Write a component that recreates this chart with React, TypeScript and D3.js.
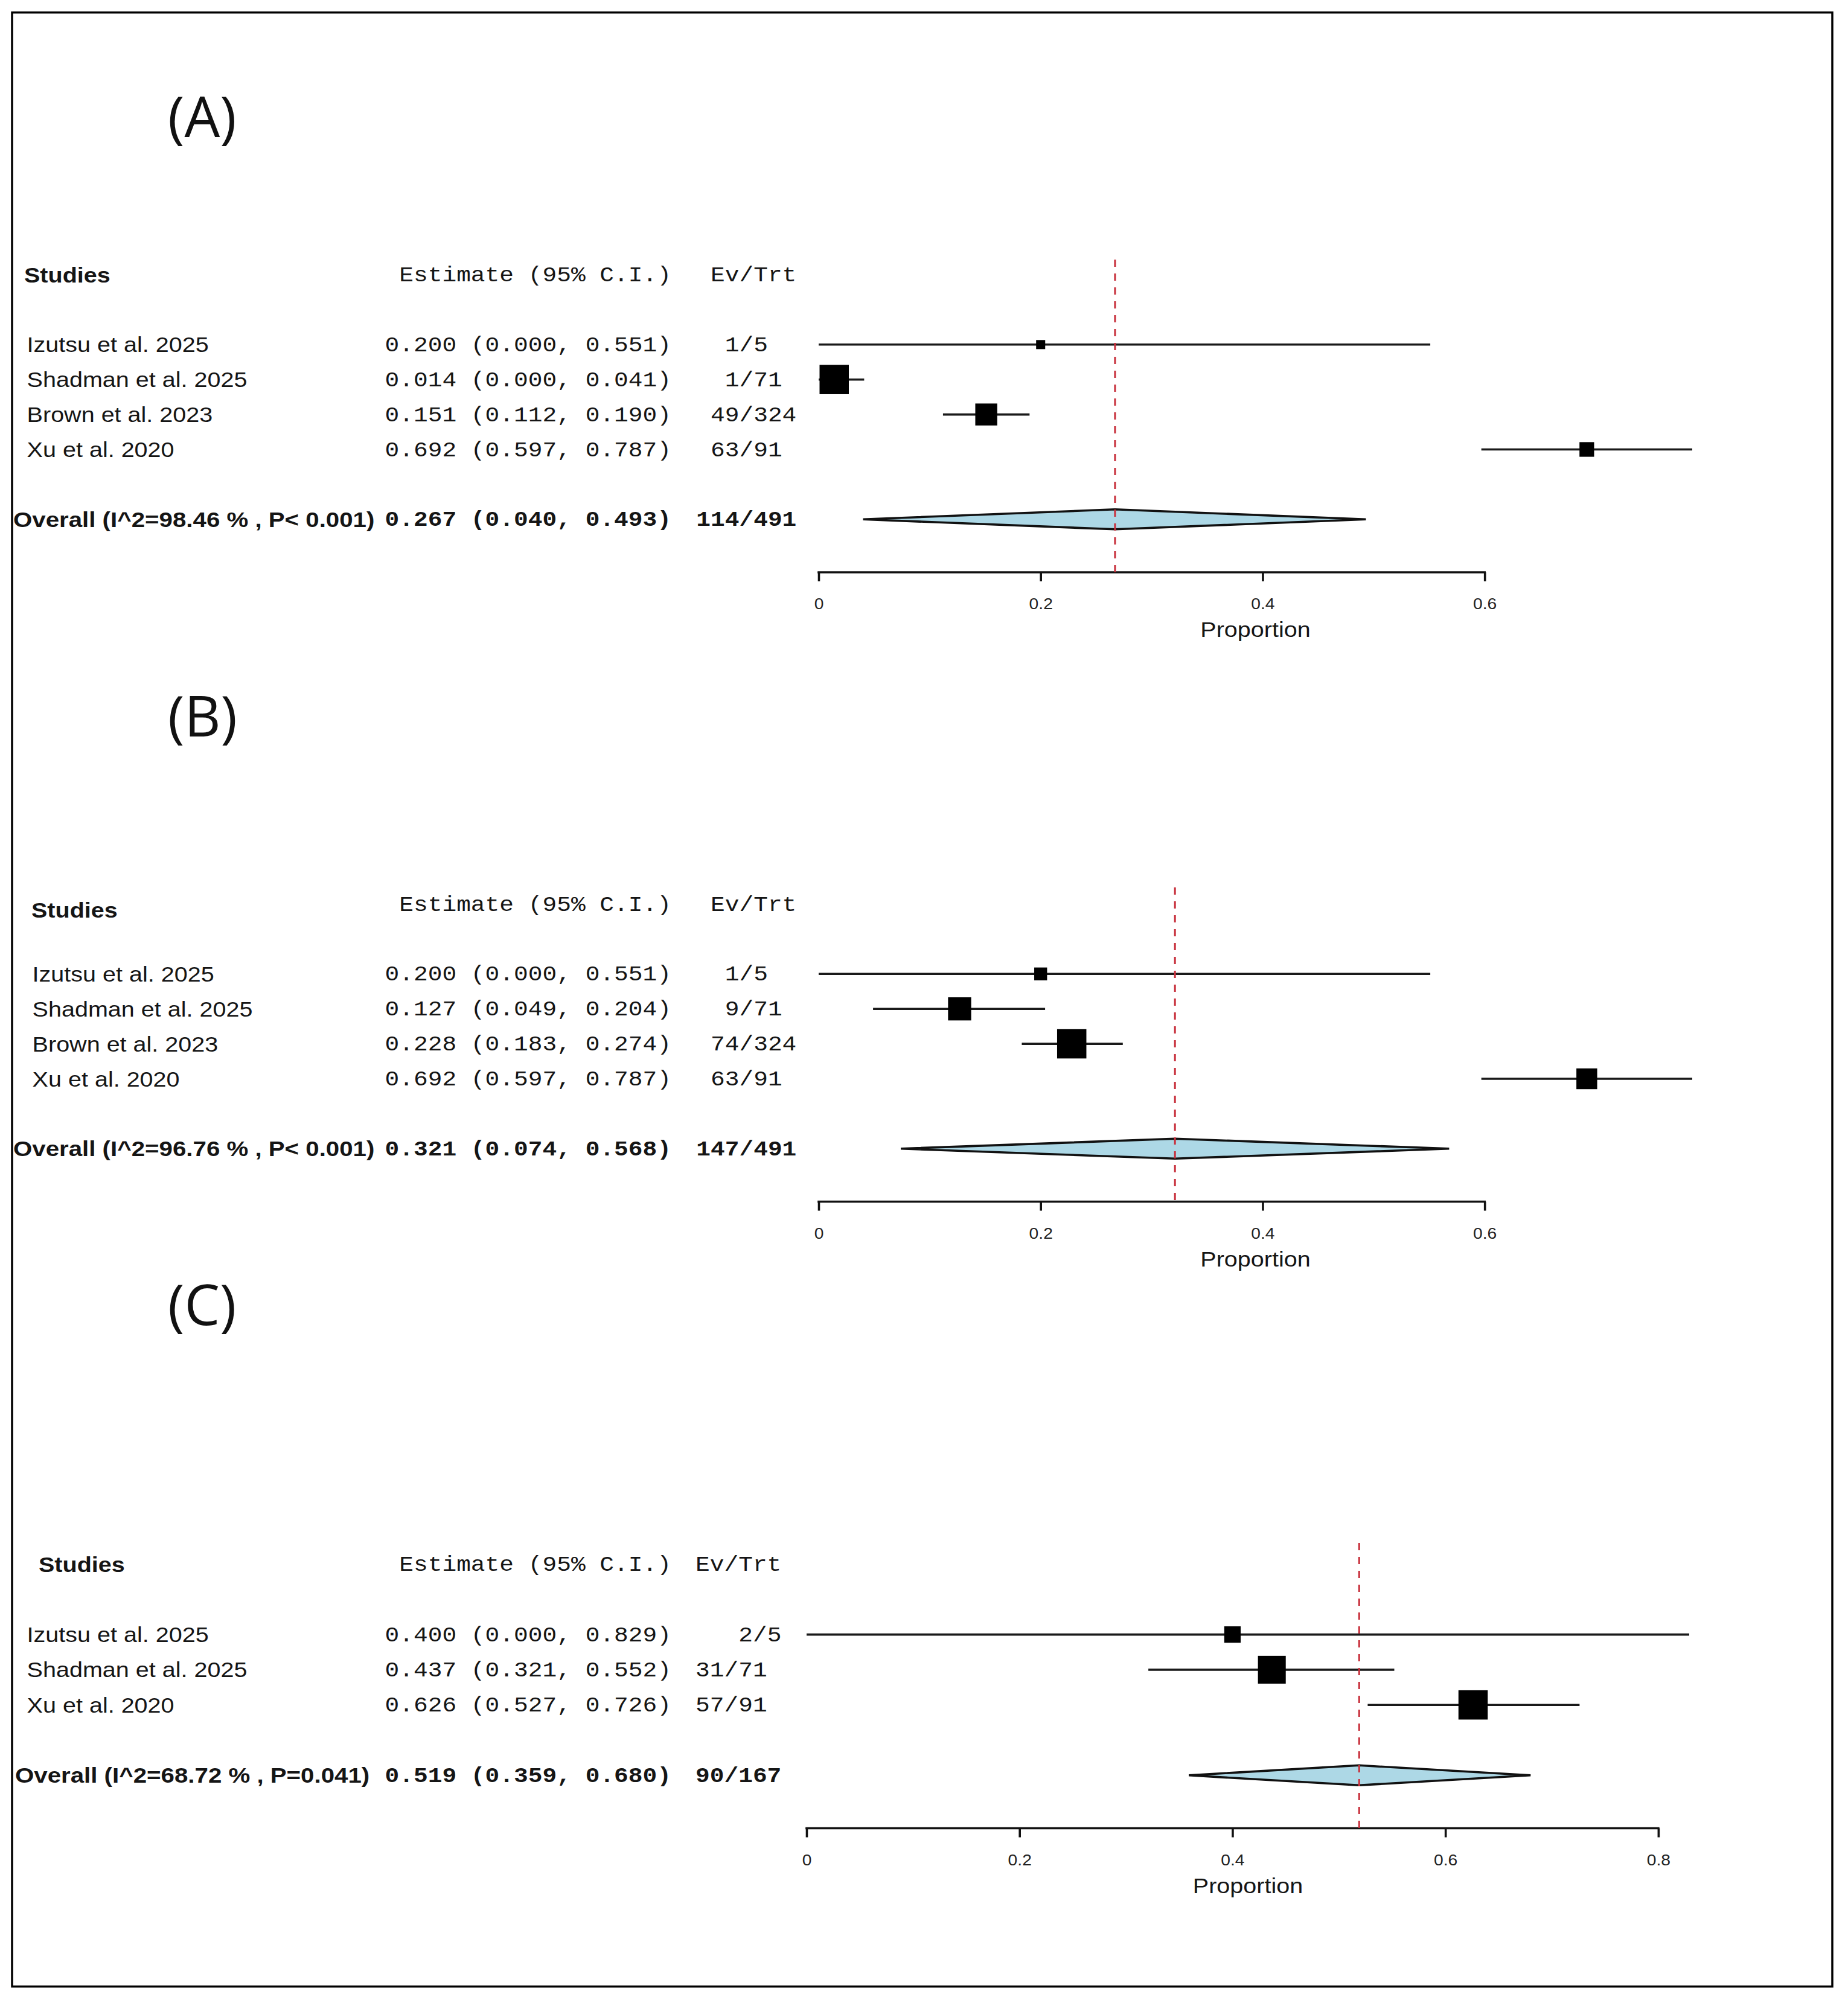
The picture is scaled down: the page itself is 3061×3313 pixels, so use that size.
import React, { useEffect, useRef } from "react";
import * as d3 from "d3";

const W = 3061;
const H = 3313;

// ---------- Data: panel A ----------
const studiesA = ["Izutsu et al. 2025", "Shadman et al. 2025", "Brown et al. 2023", "Xu et al. 2020"];
const estA = [0.2, 0.014, 0.151, 0.692];
const lowerA = [0.0, 0.0, 0.112, 0.597];
const upperA = [0.551, 0.041, 0.19, 0.787];
const eventsA = [1, 1, 49, 63];
const totalsA = [5, 71, 324, 91];
const weightsA = [0.31, 1.0, 0.75, 0.5];
const overallA = [0.267, 0.04, 0.493];
const overallCountA = [114, 491];
const overallLabelA = "Overall (I^2=98.46 % , P< 0.001)";

// ---------- Data: panel B ----------
const studiesB = ["Izutsu et al. 2025", "Shadman et al. 2025", "Brown et al. 2023", "Xu et al. 2020"];
const estB = [0.2, 0.127, 0.228, 0.692];
const lowerB = [0.0, 0.049, 0.183, 0.597];
const upperB = [0.551, 0.204, 0.274, 0.787];
const eventsB = [1, 9, 74, 63];
const totalsB = [5, 71, 324, 91];
const weightsB = [0.44, 0.79, 1.0, 0.71];
const overallB = [0.321, 0.074, 0.568];
const overallCountB = [147, 491];
const overallLabelB = "Overall (I^2=96.76 % , P< 0.001)";

// ---------- Data: panel C ----------
const studiesC = ["Izutsu et al. 2025", "Shadman et al. 2025", "Xu et al. 2020"];
const estC = [0.4, 0.437, 0.626];
const lowerC = [0.0, 0.321, 0.527];
const upperC = [0.829, 0.552, 0.726];
const eventsC = [2, 31, 57];
const totalsC = [5, 71, 91];
const weightsC = [0.56, 0.95, 1.0];
const overallC = [0.519, 0.359, 0.68];
const overallCountC = [90, 167];
const overallLabelC = "Overall (I^2=68.72 % , P=0.041)";

const ticksAB = [0, 0.2, 0.4, 0.6];
const ticksC = [0, 0.2, 0.4, 0.6, 0.8];

const headerStudies = "Studies";
const headerEstimate = "Estimate (95% C.I.)";
const headerEv = "Ev/Trt";
const axisTitle = "Proportion";

// ---------- Styling ----------
const SANS = "'Liberation Sans', Arial, Helvetica, sans-serif";
const MONO = "'Liberation Mono', 'Courier New', monospace";
const SX = 1.13;
const FS = 35;
const CHAR = FS * 0.6 * SX;
const LW = 3.6;
const fmt3 = d3.format(".3f");

type PanelProps = {
  title: string;
  titleY: number;
  studies: string[];
  est: number[];
  lower: number[];
  upper: number[];
  events: number[];
  totals: number[];
  weights: number[];
  overall: number[];
  overallCount: number[];
  overallLabel: string;
  ticks: number[];
  headerY: number;
  rowStep: number;
  studiesX: number;
  studiesDy: number;
  labelX: number;
  overallX: number;
  estRight: number;
  evLeft: number;
  evOffsets: number[];
  evOverallOffset: number;
  lineTop: number;
  plotLeft: number;
  plotRight: number;
};

function T(props: {
  x: number;
  y: number;
  children: React.ReactNode;
  anchor?: string;
  size?: number;
  sx?: number;
  family?: string;
  weight?: string;
  fill?: string;
}) {
  const { x, y, children, anchor = "start", size = FS, sx = SX, family = SANS, weight = "normal", fill = "#151515" } = props;
  return (
    <text
      transform={`translate(${x},${y}) scale(${sx},1)`}
      textAnchor={anchor as any}
      fontSize={size}
      fontFamily={family}
      fontWeight={weight}
      fill={fill}
      style={{ whiteSpace: "pre" }}
    >
      {children}
    </text>
  );
}

function Forest(p: PanelProps) {
  const axisRef = useRef<SVGGElement>(null);
  const xMax = d3.max(p.upper) as number;
  const x = d3.scaleLinear().domain([0, xMax]).range([p.plotLeft, p.plotRight]);
  const size = d3.scaleLinear().domain([0, 1]).range([0, 48.5]);
  const rowY = p.studies.map((_, i) => p.headerY + (2 + i) * p.rowStep);
  const overallY = p.headerY + (p.studies.length + 3) * p.rowStep;
  const axisY = overallY + 87.7;
  const dH = 16.5;

  useEffect(() => {
    if (!axisRef.current) return;
    const g = d3.select(axisRef.current);
    g.selectAll("*").remove();
    const axis = d3
      .axisBottom(x)
      .tickValues(p.ticks)
      .tickSize(15)
      .tickPadding(0)
      .tickFormat((d) => d3.format("")(d as number));
    g.call(axis as any);
    g.select(".domain").remove();
    g.selectAll(".tick line").attr("stroke", "#111").attr("stroke-width", LW);
    g.selectAll(".tick text")
      .attr("y", 0)
      .attr("dy", 0)
      .attr("transform", `translate(0,61) scale(${SX},1)`)
      .attr("font-size", 25)
      .attr("font-family", SANS)
      .attr("fill", "#222");
    g.append("line")
      .attr("x1", x(p.ticks[0]) - LW / 2)
      .attr("x2", x(p.ticks[p.ticks.length - 1]) + LW / 2)
      .attr("y1", 0)
      .attr("y2", 0)
      .attr("stroke", "#111")
      .attr("stroke-width", LW);
  });

  const base = 12.5; // baseline offset from row centre
  const diamond = `M${x(p.overall[1])},${overallY} L${x(p.overall[0])},${overallY - dH} L${x(p.overall[2])},${overallY} L${x(p.overall[0])},${overallY + dH} Z`;

  return (
    <g>
      <text x={278} y={p.titleY} fontFamily="'Open Sans', 'Liberation Sans', sans-serif" fontSize={93} fill="#111">
        {p.title}
      </text>

      {/* header */}
      <T x={p.studiesX} y={p.headerY + p.studiesDy + base} weight="bold">
        {headerStudies}
      </T>
      <T x={p.estRight} y={p.headerY + 11} anchor="end" family={MONO}>
        {headerEstimate}
      </T>
      <T x={p.evLeft} y={p.headerY + 11} family={MONO}>
        {headerEv}
      </T>

      {/* rows */}
      {p.studies.map((s, i) => (
        <g key={s}>
          <T x={p.labelX} y={rowY[i] + base}>
            {s}
          </T>
          <T x={p.estRight} y={rowY[i] + 11} anchor="end" family={MONO}>
            {`${fmt3(p.est[i])} (${fmt3(p.lower[i])}, ${fmt3(p.upper[i])})`}
          </T>
          <T x={p.evLeft + p.evOffsets[i] * CHAR} y={rowY[i] + 11} family={MONO}>
            {`${p.events[i]}/${p.totals[i]}`}
          </T>
          <line x1={x(p.lower[i])} x2={x(p.upper[i])} y1={rowY[i]} y2={rowY[i]} stroke="#1a1a1a" strokeWidth={LW} />
          <rect
            x={x(p.est[i]) - size(p.weights[i]) / 2}
            y={rowY[i] - size(p.weights[i]) / 2}
            width={size(p.weights[i])}
            height={size(p.weights[i])}
            fill="#000"
          />
        </g>
      ))}

      {/* overall */}
      <T x={p.overallX} y={overallY + base} weight="bold" sx={1.15}>
        {p.overallLabel}
      </T>
      <T x={p.estRight} y={overallY + 11} anchor="end" family={MONO} weight="bold">
        {`${fmt3(p.overall[0])} (${fmt3(p.overall[1])}, ${fmt3(p.overall[2])})`}
      </T>
      <T x={p.evLeft + p.evOverallOffset * CHAR} y={overallY + 11} family={MONO} weight="bold">
        {`${p.overallCount[0]}/${p.overallCount[1]}`}
      </T>
      <path d={diamond} fill="#add8e6" stroke="#111" strokeWidth={LW} strokeLinejoin="miter" />

      {/* axis */}
      <g ref={axisRef} transform={`translate(0,${axisY})`} />
      <T x={(p.plotLeft + p.plotRight) / 2} y={axisY + 107} anchor="middle">
        {axisTitle}
      </T>

      {/* summary reference line */}
      <line
        x1={x(p.overall[0])}
        x2={x(p.overall[0])}
        y1={p.lineTop}
        y2={axisY}
        stroke="#c8303c"
        strokeWidth={3}
        strokeDasharray="12 11"
      />
    </g>
  );
}

export default function App() {
  return (
    <svg
      width={W}
      height={H}
      viewBox={`0 0 ${W} ${H}`}
      style={{ position: "absolute", left: 0, top: 0, background: "#fff" }}
    >
      <rect x={0} y={0} width={W} height={H} fill="#fff" />
      <rect x={20} y={20.7} width={3015} height={3270} fill="none" stroke="#000" strokeWidth={3.5} />

      <Forest
        title="(A)"
        titleY={227}
        studies={studiesA}
        est={estA}
        lower={lowerA}
        upper={upperA}
        events={eventsA}
        totals={totalsA}
        weights={weightsA}
        overall={overallA}
        overallCount={overallCountA}
        overallLabel={overallLabelA}
        ticks={ticksAB}
        headerY={455}
        rowStep={57.9}
        studiesX={40}
        studiesDy={0}
        labelX={44.6}
        overallX={22}
        estRight={1112}
        evLeft={1177}
        evOffsets={[1, 1, 0, 0]}
        evOverallOffset={-1}
        lineTop={430}
        plotLeft={1356}
        plotRight={2803}
      />
      <Forest
        title="(B)"
        titleY={1220}
        studies={studiesB}
        est={estB}
        lower={lowerB}
        upper={upperB}
        events={eventsB}
        totals={totalsB}
        weights={weightsB}
        overall={overallB}
        overallCount={overallCountB}
        overallLabel={overallLabelB}
        ticks={ticksAB}
        headerY={1497.5}
        rowStep={57.9}
        studiesX={52}
        studiesDy={10}
        labelX={53.6}
        overallX={22}
        estRight={1112}
        evLeft={1177}
        evOffsets={[1, 1, 0, 0]}
        evOverallOffset={-1}
        lineTop={1470}
        plotLeft={1356}
        plotRight={2803}
      />
      <Forest
        title="(C)"
        titleY={2195}
        studies={studiesC}
        est={estC}
        lower={lowerC}
        upper={upperC}
        events={eventsC}
        totals={totalsC}
        weights={weightsC}
        overall={overallC}
        overallCount={overallCountC}
        overallLabel={overallLabelC}
        ticks={ticksC}
        headerY={2591}
        rowStep={58.3}
        studiesX={64}
        studiesDy={0}
        labelX={44.6}
        overallX={25}
        estRight={1112}
        evLeft={1152}
        evOffsets={[3, 0, 0]}
        evOverallOffset={0}
        lineTop={2556}
        plotLeft={1336}
        plotRight={2798}
      />
    </svg>
  );
}
